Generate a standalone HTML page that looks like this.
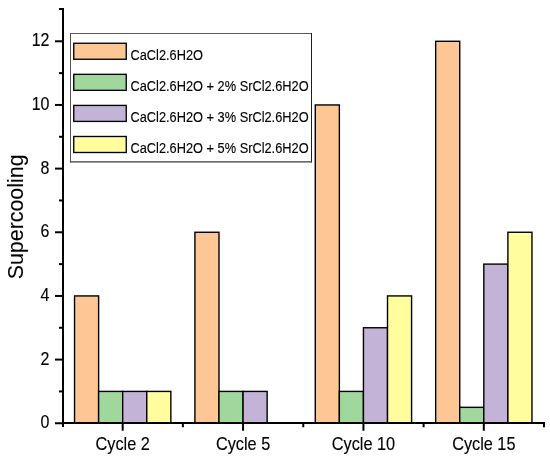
<!DOCTYPE html>
<html><head><meta charset="utf-8"><style>
html,body{margin:0;padding:0;background:#fff;}
body{width:550px;height:462px;overflow:hidden;}
svg{display:block;}
text{font-family:"Liberation Sans",Arial,sans-serif;fill:#000;stroke:#000;stroke-width:0.12px;}
</style></head><body>
<svg width="550" height="462" viewBox="0 0 550 462">
<rect x="74.54" y="295.93" width="24.08" height="127.32" fill="#FCC794" stroke="#000" stroke-width="1.4"/>
<rect x="98.61" y="391.42" width="24.08" height="31.83" fill="#A0D79C" stroke="#000" stroke-width="1.4"/>
<rect x="122.69" y="391.42" width="24.08" height="31.83" fill="#C2B3D7" stroke="#000" stroke-width="1.4"/>
<rect x="146.76" y="391.42" width="24.08" height="31.83" fill="#FFFD9E" stroke="#000" stroke-width="1.4"/>
<rect x="194.91" y="232.27" width="24.08" height="190.98" fill="#FCC794" stroke="#000" stroke-width="1.4"/>
<rect x="218.99" y="391.42" width="24.08" height="31.83" fill="#A0D79C" stroke="#000" stroke-width="1.4"/>
<rect x="243.06" y="391.42" width="24.08" height="31.83" fill="#C2B3D7" stroke="#000" stroke-width="1.4"/>
<rect x="315.29" y="104.95" width="24.08" height="318.30" fill="#FCC794" stroke="#000" stroke-width="1.4"/>
<rect x="339.36" y="391.42" width="24.08" height="31.83" fill="#A0D79C" stroke="#000" stroke-width="1.4"/>
<rect x="363.44" y="327.76" width="24.08" height="95.49" fill="#C2B3D7" stroke="#000" stroke-width="1.4"/>
<rect x="387.51" y="295.93" width="24.08" height="127.32" fill="#FFFD9E" stroke="#000" stroke-width="1.4"/>
<rect x="435.66" y="41.29" width="24.08" height="381.96" fill="#FCC794" stroke="#000" stroke-width="1.4"/>
<rect x="459.74" y="407.33" width="24.08" height="15.92" fill="#A0D79C" stroke="#000" stroke-width="1.4"/>
<rect x="483.81" y="264.10" width="24.08" height="159.15" fill="#C2B3D7" stroke="#000" stroke-width="1.4"/>
<rect x="507.89" y="232.27" width="24.08" height="190.98" fill="#FFFD9E" stroke="#000" stroke-width="1.4"/>
<line x1="63.00" y1="8.0" x2="63.00" y2="427" stroke="#000" stroke-width="2"/>
<line x1="62" y1="423" x2="545.00" y2="423" stroke="#000" stroke-width="2"/>
<line x1="55.00" y1="423.25" x2="63.00" y2="423.25" stroke="#000" stroke-width="2"/>
<text transform="translate(49.50,428.35) scale(1,1.15)" text-anchor="end" font-size="16.0">0</text>
<line x1="59.00" y1="391.42" x2="63.00" y2="391.42" stroke="#000" stroke-width="2"/>
<line x1="55.00" y1="359.59" x2="63.00" y2="359.59" stroke="#000" stroke-width="2"/>
<text transform="translate(49.50,364.69) scale(1,1.15)" text-anchor="end" font-size="16.0">2</text>
<line x1="59.00" y1="327.76" x2="63.00" y2="327.76" stroke="#000" stroke-width="2"/>
<line x1="55.00" y1="295.93" x2="63.00" y2="295.93" stroke="#000" stroke-width="2"/>
<text transform="translate(49.50,301.03) scale(1,1.15)" text-anchor="end" font-size="16.0">4</text>
<line x1="59.00" y1="264.10" x2="63.00" y2="264.10" stroke="#000" stroke-width="2"/>
<line x1="55.00" y1="232.27" x2="63.00" y2="232.27" stroke="#000" stroke-width="2"/>
<text transform="translate(49.50,237.37) scale(1,1.15)" text-anchor="end" font-size="16.0">6</text>
<line x1="59.00" y1="200.44" x2="63.00" y2="200.44" stroke="#000" stroke-width="2"/>
<line x1="55.00" y1="168.61" x2="63.00" y2="168.61" stroke="#000" stroke-width="2"/>
<text transform="translate(49.50,173.71) scale(1,1.15)" text-anchor="end" font-size="16.0">8</text>
<line x1="59.00" y1="136.78" x2="63.00" y2="136.78" stroke="#000" stroke-width="2"/>
<line x1="55.00" y1="104.95" x2="63.00" y2="104.95" stroke="#000" stroke-width="2"/>
<text transform="translate(49.50,110.05) scale(1,1.15)" text-anchor="end" font-size="16.0">10</text>
<line x1="59.00" y1="73.12" x2="63.00" y2="73.12" stroke="#000" stroke-width="2"/>
<line x1="55.00" y1="41.29" x2="63.00" y2="41.29" stroke="#000" stroke-width="2"/>
<text transform="translate(49.50,46.39) scale(1,1.15)" text-anchor="end" font-size="16.0">12</text>
<line x1="59.00" y1="9.00" x2="63.00" y2="9.00" stroke="#000" stroke-width="2"/>
<line x1="182.88" y1="423.25" x2="182.88" y2="427.25" stroke="#000" stroke-width="2"/>
<line x1="303.25" y1="423.25" x2="303.25" y2="427.25" stroke="#000" stroke-width="2"/>
<line x1="423.62" y1="423.25" x2="423.62" y2="427.25" stroke="#000" stroke-width="2"/>
<line x1="544.00" y1="423.25" x2="544.00" y2="427.25" stroke="#000" stroke-width="2"/>
<line x1="122.69" y1="423.25" x2="122.69" y2="430.75" stroke="#000" stroke-width="2"/>
<text transform="translate(122.69,450.20) scale(1,1.15)" text-anchor="middle" font-size="16.3">Cycle 2</text>
<line x1="243.06" y1="423.25" x2="243.06" y2="430.75" stroke="#000" stroke-width="2"/>
<text transform="translate(243.06,450.20) scale(1,1.15)" text-anchor="middle" font-size="16.3">Cycle 5</text>
<line x1="363.44" y1="423.25" x2="363.44" y2="430.75" stroke="#000" stroke-width="2"/>
<text transform="translate(363.44,450.20) scale(1,1.15)" text-anchor="middle" font-size="16.3">Cycle 10</text>
<line x1="483.81" y1="423.25" x2="483.81" y2="430.75" stroke="#000" stroke-width="2"/>
<text transform="translate(483.81,450.20) scale(1,1.15)" text-anchor="middle" font-size="16.3">Cycle 15</text>
<text transform="translate(23.4,216.9) scale(1.04,1) rotate(-90)" text-anchor="middle" font-size="21.4">Supercooling</text>
<rect x="70.5" y="33.5" width="241" height="128.5" fill="#fff"/>
<line x1="70" y1="33.5" x2="312" y2="33.5" stroke="#5a5a5a" stroke-width="1"/>
<line x1="70.5" y1="33" x2="70.5" y2="162.4" stroke="#505050" stroke-width="1"/>
<line x1="311.5" y1="33" x2="311.5" y2="162.4" stroke="#1e1e1e" stroke-width="1"/>
<line x1="70" y1="161.8" x2="312" y2="161.8" stroke="#3a3a3a" stroke-width="1.2"/>
<rect x="73.75" y="43.25" width="52.5" height="16" fill="#FCC794" stroke="#000" stroke-width="1.35"/>
<text transform="translate(130.50,59.80) scale(1,1.08)" text-anchor="start" font-size="12.8">CaCl2.6H2O</text>
<rect x="73.75" y="74.33" width="52.5" height="16" fill="#A0D79C" stroke="#000" stroke-width="1.35"/>
<text transform="translate(130.50,90.70) scale(1,1.08)" text-anchor="start" font-size="12.8">CaCl2.6H2O + 2% SrCl2.6H2O</text>
<rect x="73.75" y="105.41" width="52.5" height="16" fill="#C2B3D7" stroke="#000" stroke-width="1.35"/>
<text transform="translate(130.50,121.60) scale(1,1.08)" text-anchor="start" font-size="12.8">CaCl2.6H2O + 3% SrCl2.6H2O</text>
<rect x="73.75" y="136.49" width="52.5" height="16" fill="#FFFD9E" stroke="#000" stroke-width="1.35"/>
<text transform="translate(130.50,152.50) scale(1,1.08)" text-anchor="start" font-size="12.8">CaCl2.6H2O + 5% SrCl2.6H2O</text>
</svg>
</body></html>
